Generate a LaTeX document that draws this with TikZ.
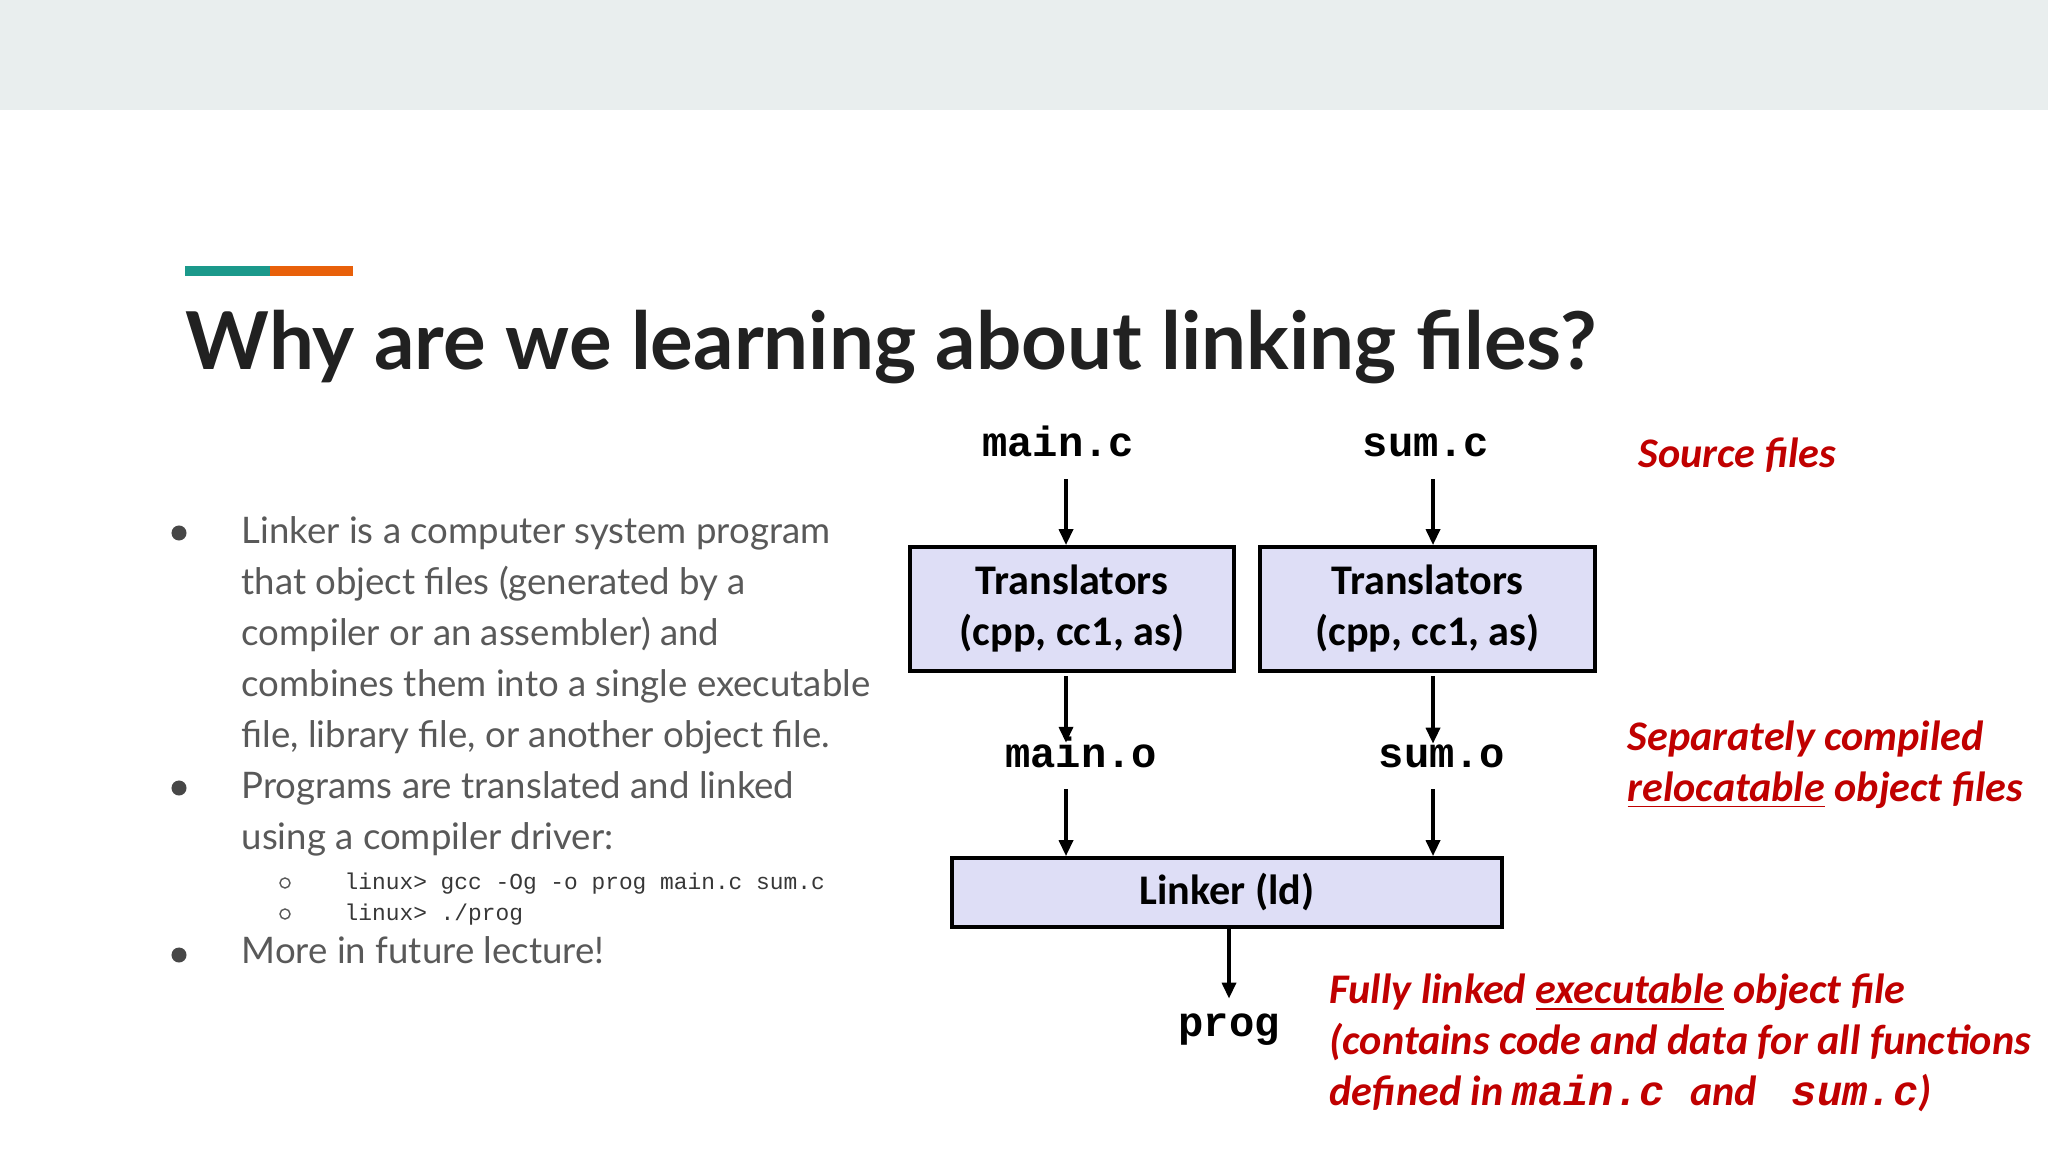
\documentclass[tikz,border=0pt]{standalone}
\usepackage{fontspec}
\setmainfont{Lato}
\newfontfamily\calfont{Carlito}
\newfontfamily\monofont{Liberation Mono}
\usetikzlibrary{arrows.meta,positioning}
\definecolor{hdr}{HTML}{E9EEEE}
\definecolor{accA}{HTML}{1B998B}
\definecolor{accB}{HTML}{E8600A}
\definecolor{bodytxt}{HTML}{595959}
\definecolor{ttl}{HTML}{212121}
\definecolor{lav}{HTML}{DEDEF6}
\definecolor{notered}{HTML}{C00000}

\begin{document}
\begin{tikzpicture}[
    x=0.01cm,y=-0.01cm,
    box/.style={draw,line width=1.1pt,fill=lav,font=\calfont\bfseries\fontsize{12}{14.5}\selectfont,align=center,inner sep=0pt},
    code/.style={font=\monofont\bfseries\fontsize{12}{14}\selectfont,inner sep=0pt,anchor=base},
    note/.style={font=\calfont\bfseries\itshape\fontsize{12}{14.4}\selectfont,text=notered,align=left,inner sep=0pt,anchor=base west},
    item/.style={font=\fontsize{10.4}{14.5}\selectfont,text=bodytxt,align=left,inner sep=0pt,anchor=base west},
    cmd/.style={font=\monofont\fontsize{6.5}{8}\selectfont,text=ttl!90,inner sep=0pt,anchor=base west},
    dot/.style={circle,fill=bodytxt!80!black,inner sep=0pt,minimum size=0.15cm},
    ring/.style={circle,draw=bodytxt,line width=0.4pt,inner sep=0pt,minimum size=0.1cm},
    arr/.style={-{Triangle[length=4.5pt,width=4pt]},line width=0.9pt}
]
\useasboundingbox (0,0) rectangle (2048,1152);
\fill[white] (0,0) rectangle (2048,1152);
\fill[hdr] (0,0) rectangle (2048,110);

% title
\fill[accA] (185,266) rectangle (270,276);
\fill[accB] (270,266) rectangle (353,276);
\node[font=\bfseries\fontsize{22.7}{28}\selectfont,text=ttl,inner sep=0pt,anchor=base west] (title) at (185,370) {Why are we learning about linking files?};

% bullets (multi-line nodes sit on their last baseline)
\node[dot] (d1) at (179,533) {};
\node[item] (b1) at (241,747) {Linker is a computer system program\\that object files (generated by a\\compiler or an assembler) and\\combines them into a single executable\\file, library file, or another object file.};
\node[dot] (d2) at (179,788) {};
\node[item] (b2) at (241,849) {Programs are translated and linked\\using a compiler driver:};
\node[ring] (r1) at (285,883) {};
\node[cmd] (c1) at (344,889) {linux> gcc -Og -o prog main.c sum.c};
\node[ring] (r2) at (285,914) {};
\node[cmd] (c2) at (344,920) {linux> ./prog};
\node[dot] (d3) at (179,955) {};
\node[item] (b3) at (241,963) {More in future lecture!};

% diagram
\node[code] (mainc) at (1058,457) {main.c};
\node[code] (sumc) at (1426,457) {sum.c};
\node[box,minimum width=3.24cm,minimum height=1.24cm] (trl) at (1072,609) {Translators\\(cpp, cc1, as)};
\node[box,minimum width=3.35cm,minimum height=1.24cm] (trr) at (1427.5,609) {Translators\\(cpp, cc1, as)};
\node[code] (maino) at (1081,767) {main.o};
\node[code] (sumo) at (1442,767) {sum.o};
\node[box,minimum width=5.5cm,minimum height=0.69cm] (ld) at (1227,892.5) {Linker (ld)};
\node[code] (prog) at (1229,1036) {prog};

\coordinate (cl) at (1066,0);
\coordinate (cr) at (1433,0);
\draw[arr,shorten <=6pt] (mainc.south -| cl) -- (trl.north -| cl);
\draw[arr,shorten <=6pt] (sumc.south -| cr) -- (trr.north -| cr);
\draw[arr,shorten <=1pt,shorten >=-2pt] (trl.south -| cl) -- (maino.north -| cl);
\draw[arr,shorten <=1pt] (trr.south -| cr) -- (sumo.north -| cr);
\draw[arr,shorten <=6pt] (maino.south -| cl) -- (ld.north -| cl);
\draw[arr,shorten <=6pt] (sumo.south -| cr) -- (ld.north -| cr);
\draw[arr,shorten >=4pt] (ld.south -| prog) -- (prog.north);

% red notes
\node[note] (src) at (1638,468) {Source files};
\node[note] (reloc) at (1627,801) {Separately compiled\\\underline{relocatable} object files};
\node[note] (exe) at (1329,1105) {Fully linked \underline{executable} object file\\(contains code and data for all functions\\defined in {\monofont\fontsize{12}{14.4}\selectfont main.c\ }and {\monofont\fontsize{12}{14.4}\selectfont\ sum.c})};
\end{tikzpicture}
\end{document}
